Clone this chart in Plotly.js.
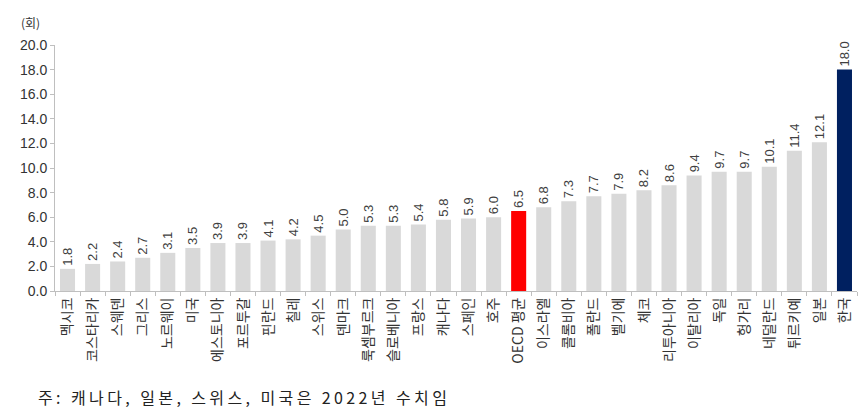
<!DOCTYPE html>
<html>
<head>
<meta charset="utf-8">
<script src="https://cdn.plot.ly/plotly-3.0.1.min.js"></script>
<style>
  html, body { margin: 0; padding: 0; background: #fff; }
  #chart { width: 860px; height: 411px; }
  /* the footnote in the source uses a wide-spaced font */
  .annotation[data-index="1"] .annotation-text { letter-spacing: 3.4px; }
</style>
</head>
<body>
<div id="chart"></div>
<script>
// Countries (OECD comparison)
const countries = ['멕시코', '코스타리카', '스웨덴', '그리스', '노르웨이', '미국', '에스토니아', '포르투갈',
    '핀란드', '칠레', '스위스', '덴마크', '룩셈부르크', '슬로베니아', '프랑스', '캐나다', '스페인', '호주',
    'OECD 평균', '이스라엘', '콜롬비아', '폴란드', '벨기에', '체코', '리투아니아', '이탈리아', '독일',
    '헝가리', '네덜란드', '튀르키예', '일본', '한국'];
const values = [1.8, 2.2, 2.4, 2.7, 3.1, 3.5, 3.9, 3.9, 4.1, 4.2, 4.5, 5.0, 5.3, 5.3, 5.4, 5.8, 5.9, 6.0,
    6.5, 6.8, 7.3, 7.7, 7.9, 8.2, 8.6, 9.4, 9.7, 9.7, 10.1, 11.4, 12.1, 18.0];
const yTicks = [0, 2, 4, 6, 8, 10, 12, 14, 16, 18, 20];

const colors = {
    base: '#d9d9d9',
    oecd: '#ff0000',
    korea: '#002060'
};

const barColors = countries.map(c => c === 'OECD 평균' ? colors.oecd : (c === '한국' ? colors.korea : colors.base));

const fontFamily = '"Liberation Sans", Arial, "Noto Sans CJK KR", sans-serif';
const krFont = '"Noto Sans CJK KR", sans-serif';

const trace = {
    x: countries,
    y: values,
    type: 'bar',
    marker: { color: barColors },
    text: values.map(v => v.toFixed(1)),
    textposition: 'outside',
    textangle: -90,
    constraintext: 'none',
    cliponaxis: false,
    textfont: { family: fontFamily, size: 13, color: '#404040' },
    hoverinfo: 'x+y'
};

const layout = {
    width: 860,
    height: 411,
    margin: { t: 45, r: 3, b: 120, l: 55 },
    bargap: 0.4,
    showlegend: false,
    uniformtext: { mode: 'show', minsize: 13 },
    paper_bgcolor: '#fff',
    plot_bgcolor: '#fff',
    font: { family: fontFamily, size: 13, color: '#333' },
    xaxis: {
        type: 'category',
        tickangle: -90,
        showline: true,
        linecolor: '#bfbfbf',
        ticks: 'outside',
        tickson: 'boundaries',
        ticklen: 4,
        tickcolor: '#bfbfbf',
        tickfont: { family: krFont, size: 14, color: '#333' },
        showgrid: false
    },
    yaxis: {
        range: [0, 20],
        tickvals: yTicks,
        tickformat: '.1f',
        showline: true,
        linecolor: '#bfbfbf',
        ticks: 'outside',
        ticklen: 4,
        tickcolor: '#bfbfbf',
        showgrid: false,
        zeroline: false,
        tickfont: { family: fontFamily, size: 14, color: '#333' }
    },
    annotations: [
        {
            text: '(회)', xref: 'paper', yref: 'paper', x: -0.031, y: 1.093,
            xanchor: 'center', yanchor: 'middle', showarrow: false,
            font: { family: krFont, size: 12, color: '#333' }
        },
        {
            text: '주: 캐나다, 일본, 스위스, 미국은 2022년 수치임', xref: 'paper', yref: 'paper',
            x: 0.236, y: -0.431, xanchor: 'center', yanchor: 'middle', showarrow: false,
            font: { family: krFont, size: 16, color: '#222' }
        }
    ]
};

Plotly.newPlot('chart', [trace], layout, { displayModeBar: false, staticPlot: true });
</script>
</body>
</html>
